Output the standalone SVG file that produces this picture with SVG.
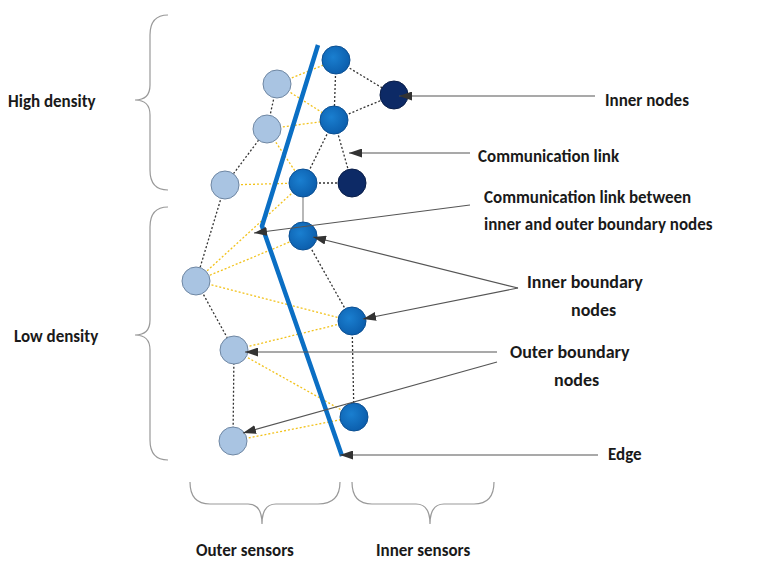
<svg xmlns="http://www.w3.org/2000/svg" width="760" height="568" viewBox="0 0 760 568">
<defs>
<marker id="ah" markerWidth="13" markerHeight="9" refX="13" refY="4.5" orient="auto" markerUnits="userSpaceOnUse"><path d="M0,0 L13,4.5 L0,9 Z" fill="#333"/></marker>
<radialGradient id="gb" cx="0.4" cy="0.4" r="0.7"><stop offset="0" stop-color="#1a7fd0"/><stop offset="1" stop-color="#0a5aa8"/></radialGradient>
</defs>
<style>
text{font-family:"Calibri","Carlito","Liberation Sans",sans-serif;font-weight:bold;font-size:17px;fill:#1a1a1a}
.o{fill:#a9c4e2;stroke:#6f87a3;stroke-width:1}
.i{fill:url(#gb);stroke:#0b4f92;stroke-width:1}
.d{fill:#0d2a66;stroke:#091d48;stroke-width:1}
.k{stroke:#333;stroke-width:1.3;stroke-dasharray:2 2;fill:none}
.y{stroke:#f2c21b;stroke-width:1.3;stroke-dasharray:2 2;fill:none}
.a{stroke:#555;stroke-width:1.2;fill:none;marker-end:url(#ah)}
.b{stroke:#999;stroke-width:1.2;fill:none}
</style>
<rect width="760" height="568" fill="#fff"/>
<g id="braces">
<path class="b" d="M168,15 Q150,15 150,35 L150,85 Q150,100 135,100 Q150,100 150,115 L150,170 Q150,190 168,190"/>
<path class="b" d="M168,207 Q150,207 150,227 L150,320 Q150,335 135,335 Q150,335 150,350 L150,440 Q150,460 168,460"/>
<path class="b" d="M190,482 Q190,504 210,504 L248,504 Q262,504 262,524 Q262,504 276,504 L318,504 Q340,504 340,482"/>
<path class="b" d="M352,482 Q352,504 372,504 L416,504 Q430,504 430,524 Q430,504 444,504 L474,504 Q494,504 494,482"/>
</g>
<g id="connectors">
<path class="k" d="M336,60 L394,95 M334,120 L394,95 M336,60 L334,120 M334,120 L303,183 M334,120 L352,183 M303,183 L352,183 M304,236 L352,321 M352,321 L354,417"/>
<path d="M303,183 L303,236" stroke="#888" stroke-width="1.2"/>
<path class="k" d="M277,84 L267,129 L225,185 L196,281 L234,350 L233,441"/>
<path class="y" d="M277,84 L336,60 M277,84 L334,120 M267,129 L334,120 M267,129 L303,183 M225,185 L303,183 M303,183 L196,281 M304,236 L196,281 M196,281 L352,321 M234,350 L352,321 M234,350 L354,417 M233,441 L354,417"/>
<path d="M318,45 L262,226 L342,456" stroke="#0b6fc4" stroke-width="4.5" fill="none"/>
</g>
<g id="outer-nodes">
<circle class="o" cx="277" cy="84" r="14"/>
<circle class="o" cx="267" cy="129" r="14"/>
<circle class="o" cx="225" cy="185" r="14"/>
<circle class="o" cx="196" cy="281" r="14"/>
<circle class="o" cx="234" cy="350" r="14"/>
<circle class="o" cx="233" cy="441" r="14"/>
</g>
<g id="inner-boundary-nodes">
<circle class="i" cx="336" cy="60" r="14"/>
<circle class="i" cx="334" cy="120" r="14"/>
<circle class="i" cx="303" cy="183" r="14"/>
<circle class="i" cx="303" cy="236" r="14"/>
<circle class="i" cx="352" cy="321" r="14"/>
<circle class="i" cx="354" cy="417" r="14"/>
</g>
<g id="inner-nodes">
<circle class="d" cx="394" cy="95" r="14"/>
<circle class="d" cx="352" cy="183" r="14"/>
</g>
<g id="label-arrows">
<path class="a" d="M595,96 L399,96"/>
<path class="a" d="M470,153 L349,153"/>
<path class="a" d="M470,205 L254,233"/>
<path class="a" d="M518,288 L313,237"/>
<path class="a" d="M518,288 L363,319"/>
<path class="a" d="M497,352 L245,352"/>
<path class="a" d="M497,362 L243,433"/>
<path class="a" d="M598,455 L340,455"/>
</g>
<g id="labels">
<text x="8" y="107">High density</text>
<text x="14" y="342">Low density</text>
<text x="605" y="106">Inner nodes</text>
<text x="478" y="162">Communication link</text>
<text x="484" y="203" font-size="14">Communication link between</text>
<text x="484" y="230" font-size="14">inner and outer boundary nodes</text>
<text x="527" y="288" style="font-size:18px">Inner boundary</text>
<text x="571" y="316" style="font-size:18px">nodes</text>
<text x="510" y="358" style="font-size:18px">Outer boundary</text>
<text x="554" y="386" style="font-size:18px">nodes</text>
<text x="608" y="460">Edge</text>
<text x="196" y="556">Outer sensors</text>
<text x="376" y="556">Inner sensors</text>
</g>
</svg>
